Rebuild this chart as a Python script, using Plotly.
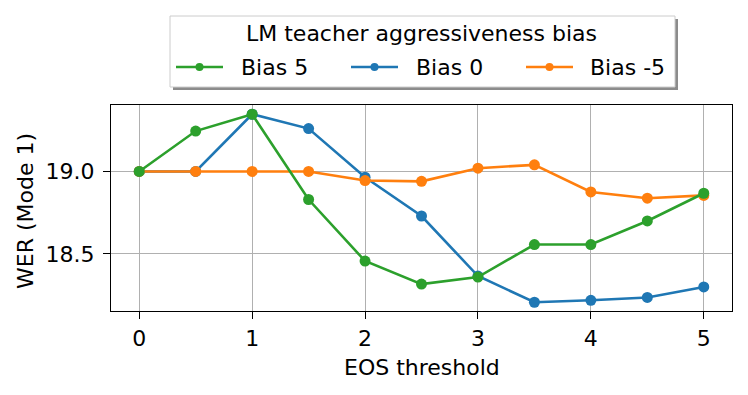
import plotly.graph_objects as go

eos_threshold = [0, 0.5, 1, 1.5, 2, 2.5, 3, 3.5, 4, 4.5, 5]
bias_5 = [19.0, 19.245, 19.347, 18.83, 18.457, 18.317, 18.36, 18.557, 18.557, 18.70, 18.868]
bias_0 = [19.0, 19.0, 19.347, 19.26, 18.965, 18.73, 18.366, 18.207, 18.219, 18.236, 18.30]
bias_m5 = [19.0, 19.0, 19.0, 19.0, 18.945, 18.94, 19.02, 19.04, 18.876, 18.838, 18.855]
series_names = ["Bias 5", "Bias 0", "Bias -5"]
colors = ["#2ca02c", "#1f77b4", "#ff7f0e"]
legend_title = "LM teacher aggressiveness bias"
x_ticks = [0, 1, 2, 3, 4, 5]
y_ticks = [18.5, 19.0]
y_tick_labels = ["18.5", "19.0"]

W, H = 748, 395
L, R, T, B = 111, 732, 105, 311
FONT = "DejaVu Sans"
FS = 22

def px(x):
    return (x - L) / (R - L)

def py(y):
    return (B - y) / (B - T)

fig = go.Figure()
# draw order: blue, orange, green (green on top)
for vals, name, col in [(bias_0, series_names[1], colors[1]),
                        (bias_m5, series_names[2], colors[2]),
                        (bias_5, series_names[0], colors[0])]:
    fig.add_trace(go.Scatter(x=eos_threshold, y=vals, name=name, mode="lines+markers",
                             line=dict(color=col, width=2.6),
                             marker=dict(color=col, size=11),
                             showlegend=False, cliponaxis=False))

shapes = []
annotations = []
# legend shadow and box
shapes.append(dict(type="rect", xref="paper", yref="paper",
                   x0=px(173), x1=px(678), y0=py(90), y1=py(19),
                   fillcolor="#8c8c8c", line=dict(width=0), layer="above"))
shapes.append(dict(type="rect", xref="paper", yref="paper",
                   x0=px(170), x1=px(675), y0=py(87), y1=py(16),
                   fillcolor="white", line=dict(color="#cccccc", width=1), layer="above"))
annotations.append(dict(text=legend_title, xref="paper", yref="paper",
                        x=px(421), y=py(34), showarrow=False,
                        xanchor="center", yanchor="middle",
                        font=dict(family=FONT, size=FS, color="black")))
entries = [(176, 239, series_names[0], colors[0]),
           (351, 414, series_names[1], colors[1]),
           (526, 588, series_names[2], colors[2])]
ly = 67
for x0, tx, name, col in entries:
    shapes.append(dict(type="line", xref="paper", yref="paper",
                       x0=px(x0), x1=px(x0 + 47), y0=py(ly), y1=py(ly),
                       line=dict(color=col, width=2.6), layer="above"))
    cx = x0 + 23.5
    shapes.append(dict(type="circle", xref="paper", yref="paper",
                       x0=px(cx - 4), x1=px(cx + 4), y0=py(ly + 4), y1=py(ly - 4),
                       fillcolor=col, line=dict(color=col, width=0), layer="above"))
    annotations.append(dict(text=name, xref="paper", yref="paper",
                            x=px(tx), y=py(ly), showarrow=False,
                            xanchor="left", yanchor="middle",
                            font=dict(family=FONT, size=FS, color="black")))

annotations.append(dict(text="EOS threshold", xref="paper", yref="paper",
                        x=0.5, y=py(367), showarrow=False,
                        xanchor="center", yanchor="middle",
                        font=dict(family=FONT, size=FS, color="black")))
annotations.append(dict(text="WER (Mode 1)", xref="paper", yref="paper",
                        x=px(25), y=py(211), showarrow=False, textangle=-90,
                        xanchor="center", yanchor="middle",
                        font=dict(family=FONT, size=FS, color="black")))

axis_common = dict(showline=True, linecolor="black", linewidth=1.3, mirror=True,
                   ticks="outside", ticklen=7, tickwidth=1.2, tickcolor="black",
                   showgrid=True, gridcolor="#b0b0b0", gridwidth=1.1, zeroline=False,
                   tickfont=dict(family=FONT, size=FS, color="black"))

fig.update_layout(
    width=W, height=H,
    margin=dict(l=L, r=W - R, t=T, b=H - B),
    plot_bgcolor="white", paper_bgcolor="white",
    xaxis=dict(range=[-0.25, 5.25], tickvals=x_ticks, **axis_common),
    yaxis=dict(range=[18.154, 19.403], tickvals=y_ticks, ticktext=y_tick_labels,
               ticklabelstandoff=4, **axis_common),
    shapes=shapes, annotations=annotations,
    showlegend=False,
)

fig.write_html("out.html", config={"displayModeBar": False},
               post_script="document.body.style.margin='0px';")
